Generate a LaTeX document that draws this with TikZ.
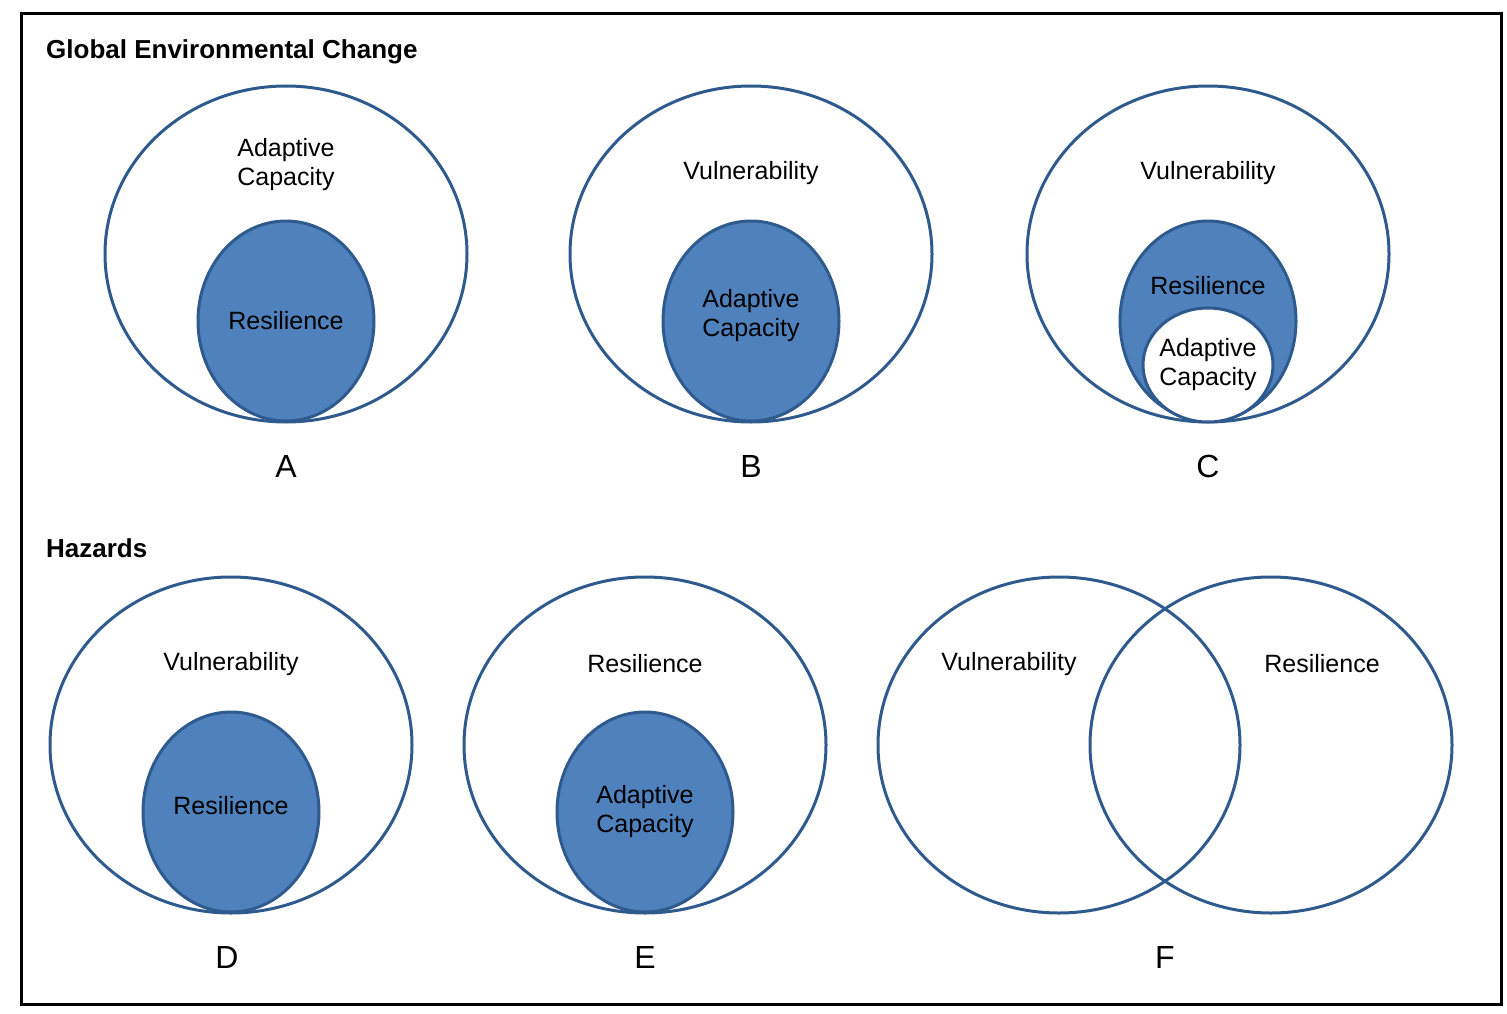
\documentclass[tikz,border=0pt]{standalone}
\usepackage{fontspec}
\setmainfont{Liberation Sans}
\usetikzlibrary{shapes.geometric}
\definecolor{ring}{HTML}{2F5A8E}
\definecolor{fillb}{HTML}{4F81BD}
\begin{document}
\begin{tikzpicture}[x=1pt,y=-1pt,
  outer/.style={ellipse,draw=ring,line width=3pt,minimum width=362pt,minimum height=336pt,inner sep=0pt},
  inner/.style={ellipse,draw=ring,fill=fillb,line width=3pt,minimum width=176pt,minimum height=200pt,inner sep=0pt},
  txt/.style={font=\fontsize{25}{29}\selectfont,align=center,inner sep=0pt},
  lab/.style={font=\fontsize{32}{36}\selectfont,inner sep=0pt},
  ttl/.style={font=\bfseries\fontsize{26}{30}\selectfont,anchor=west,inner sep=0pt}]
\useasboundingbox (0,0) rectangle (1507,1014);
\node[draw,line width=3pt,minimum width=1480pt,minimum height=991pt,inner sep=0pt,anchor=north west] (frame) at (20,12) {};
\node[ttl] (t1) at (46,52) {Global Environmental Change};
\node[ttl] (t2) at (46,548) {Hazards};
% A
\node[outer] (Ao) at (286,254) {};
\node[inner] (Ai) at (286,321) {};
\node[txt] (Aa) at (286,165) {Adaptive\\Capacity};
\node[txt] (Ar) at (286,321) {Resilience};
\node[lab] (Al) at (286,466) {A};
% B
\node[outer] (Bo) at (751,254) {};
\node[inner] (Bi) at (751,321) {};
\node[txt] (Bv) at (751,173) {Vulnerability};
\node[txt] (Ba) at (751,316) {Adaptive\\Capacity};
\node[lab] (Bl) at (751,466) {B};
% C
\node[outer] (Co) at (1208,254) {};
\node[inner] (Ci) at (1208,321) {};
\node[ellipse,draw=ring,fill=white,line width=3pt,minimum width=130pt,minimum height=114pt,inner sep=0pt] (Cw) at (1208,365) {};
\node[txt] (Cv) at (1208,173) {Vulnerability};
\node[txt] (Cr) at (1208,286) {Resilience};
\node[txt] (Ca) at (1208,365) {Adaptive\\Capacity};
\node[lab] (Cl) at (1208,466) {C};
% D
\node[outer] (Do) at (231,745) {};
\node[inner] (Di) at (231,812) {};
\node[txt] (Dv) at (231,664) {Vulnerability};
\node[txt] (Dr) at (231,806) {Resilience};
\node[lab] (Dl) at (227,957) {D};
% E
\node[outer] (Eo) at (645,745) {};
\node[inner] (Ei) at (645,812) {};
\node[txt] (Er) at (645,664) {Resilience};
\node[txt] (Ea) at (645,812) {Adaptive\\Capacity};
\node[lab] (El) at (645,957) {E};
% F
\node[outer] (Fa) at (1059,745) {};
\node[outer] (Fb) at (1271,745) {};
\node[txt] (Fv) at (1009,664) {Vulnerability};
\node[txt] (Fr) at (1322,664) {Resilience};
\node[lab] (Fl) at (1165,957) {F};
\end{tikzpicture}
\end{document}
